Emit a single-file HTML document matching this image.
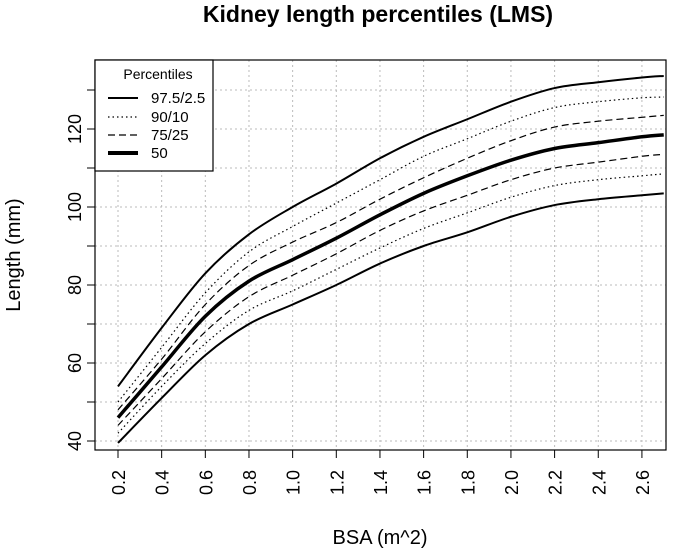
<!DOCTYPE html>
<html><head><meta charset="utf-8"><style>
body{margin:0;background:#fff;font-family:"Liberation Sans",sans-serif}
</style></head><body>
<svg id="c" width="685" height="549" xmlns="http://www.w3.org/2000/svg" font-family="Liberation Sans, sans-serif">
<text x="378" y="22" text-anchor="middle" font-size="23" font-weight="bold">Kidney length percentiles (LMS)</text>
<text transform="translate(20,255) rotate(-90)" text-anchor="middle" font-size="20">Length (mm)</text>
<text x="380" y="544" text-anchor="middle" font-size="20">BSA (m^2)</text>
<g id="grid"></g><g id="axes"></g><g id="lines"></g>
<g>
<rect x="95" y="60" width="118" height="111" fill="#fff" stroke="#000" stroke-width="1.2"/>
<text x="158" y="79" text-anchor="middle" font-size="14">Percentiles</text>
<line x1="108" y1="98" x2="138" y2="98" stroke="#000" stroke-width="2"/><text x="151" y="103" font-size="15">97.5/2.5</text>
<line x1="108" y1="117" x2="138" y2="117" stroke="#000" stroke-width="1.2" stroke-dasharray="1.5,3"/><text x="151" y="122" font-size="15">90/10</text>
<line x1="108" y1="135" x2="138" y2="135" stroke="#000" stroke-width="1.2" stroke-dasharray="7,4"/><text x="151" y="140" font-size="15">75/25</text>
<line x1="108" y1="153" x2="138" y2="153" stroke="#000" stroke-width="4"/><text x="151" y="158" font-size="15">50</text>
</g>
</svg>
<script>
const xs=[0.2,0.4,0.6,0.8,1.0,1.2,1.4,1.6,1.8,2.0,2.2,2.4,2.6,2.7];
const p975=[54,69,83,93,100,106,112.5,118,122.5,127,130.5,132,133.2,133.6];
const p90=[50,64,78,88.5,95,101,107,113,117.5,122,125.5,127,128,128.2];
const p75=[48,61,75,85,91,96,102,107.5,112.5,117,120.5,122,123,123.5];
const p50=[46,59,72,81,86.5,92,98,103.5,108,112,115,116.5,118,118.5];
const p25=[44,56,68,77,82.5,88,94,99,103,107,110,111.5,113,113.5];
const p10=[42,54,65,73.5,78.5,84,89.5,94.5,98.5,102.5,105.5,107,108,108.5];
const p025=[39.5,51,62,70,75,80,85.5,90,93.5,97.5,100.5,102,103,103.5];
const xTicks=["0.2","0.4","0.6","0.8","1.0","1.2","1.4","1.6","1.8","2.0","2.2","2.4","2.6"];
const yTicks=[40,50,60,70,80,90,100,110,120,130];
const yLabels=[40,60,80,100,120];
const NS="http://www.w3.org/2000/svg";
const L=95,R=666,T=60,B=450;
const X=v=>118+(v-0.2)*218.3;
const Y=v=>441-(v-40)*3.9;
function mk(p,t,a){const e=document.createElementNS(NS,t);for(const k in a)e.setAttribute(k,a[k]);p.appendChild(e);return e;}
const g=document.getElementById('grid'),ax=document.getElementById('axes'),ln=document.getElementById('lines');
xTicks.forEach(t=>{const v=+t;
 const gl=mk(g,'line',{x1:X(v),x2:X(v),y1:T,y2:B,stroke:'#bbb','stroke-dasharray':'2,3'});
 
 
 const tk=mk(ax,'line',{x1:X(v),x2:X(v),y1:B,y2:B+8,stroke:'#000'});
 
 
 const tx=mk(ax,'text',{transform:`translate(${X(v)+7},${B+20}) rotate(-90)`,'text-anchor':'end','font-size':18});
 tx.textContent=t;
 
 
});
yTicks.forEach(v=>{
 const gl=mk(g,'line',{x1:L,x2:R,y1:Y(v),y2:Y(v),stroke:'#bbb','stroke-dasharray':'2,3'});
 
 
 const tk=mk(ax,'line',{x1:L-8,x2:L,y1:Y(v),y2:Y(v),stroke:'#000'});
 
 
});
yLabels.forEach(v=>{
 const tx=mk(ax,'text',{transform:`translate(${L-14},${Y(v)}) rotate(-90)`,'text-anchor':'middle','font-size':18});
 tx.textContent=v;
 
 
});
const box=mk(ax,'rect',{x:L,y:T,width:R-L,height:B-T,fill:'none',stroke:'#000','stroke-width':1.2});


function path(arr){const pts=xs.map((x,i)=>[X(x),Y(arr[i])]);let d=`M${pts[0]}`;
 for(let i=0;i<pts.length-1;i++){const p0=pts[i-1]||pts[i],p1=pts[i],p2=pts[i+1],p3=pts[i+2]||p2;
  d+=`C${p1[0]+(p2[0]-p0[0])/6},${p1[1]+(p2[1]-p0[1])/6} ${p2[0]-(p3[0]-p1[0])/6},${p2[1]-(p3[1]-p1[1])/6} ${p2[0]},${p2[1]}`;}return d;}
const series=[[p975,'p97-5-line',2,''],[p90,'p90-line',1.2,'1.5,3'],[p75,'p75-line',1.2,'7,4'],[p50,'p50-line',3.5,''],[p25,'p25-line',1.2,'7,4'],[p10,'p10-line',1.2,'1.5,3'],[p025,'p2-5-line',2,'']];
series.forEach(s=>{const e=mk(ln,'path',{d:path(s[0]),fill:'none',stroke:'#000','stroke-width':s[2],'stroke-dasharray':s[3]});
 
 
});
</script>
</body></html>
